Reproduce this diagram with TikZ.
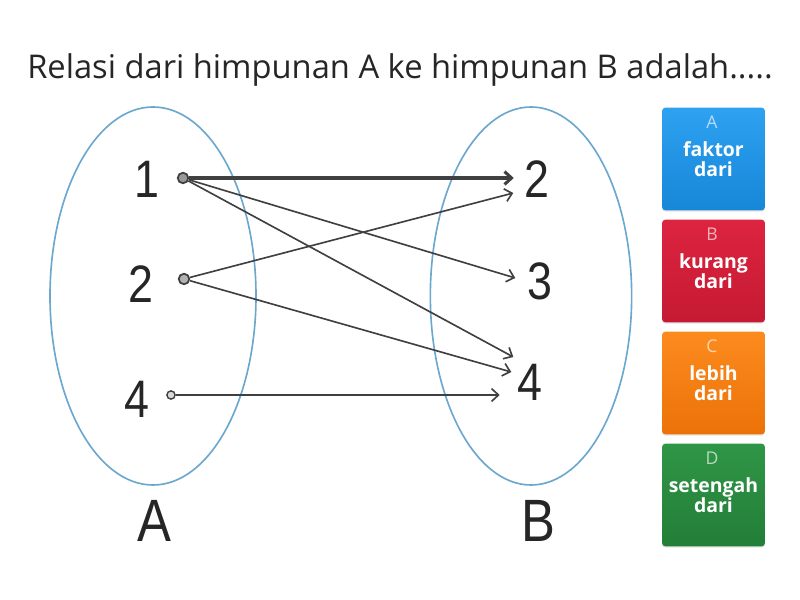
\documentclass[tikz,border=0pt]{standalone}
\usepackage{fontspec}
\usepackage{graphicx}
\setmainfont{Open Sans}
\newfontfamily\numfont{Liberation Sans}
\usetikzlibrary{arrows.meta,shadows}
\definecolor{setblue}{HTML}{6CA7CE}
\definecolor{mapgray}{HTML}{404040}
\definecolor{optAtop}{HTML}{2EA1F1}
\definecolor{optAbot}{HTML}{1787D8}
\definecolor{optBtop}{HTML}{DD2440}
\definecolor{optBbot}{HTML}{C51A32}
\definecolor{optCtop}{HTML}{FC8B1E}
\definecolor{optCbot}{HTML}{EC7208}
\definecolor{optDtop}{HTML}{2F9646}
\definecolor{optDbot}{HTML}{237E38}
\newcommand{\narrow}[1]{\scalebox{0.85}[1]{#1}}
\tikzset{
  >={Straight Barb[length=6pt,width=11pt]},
  elem/.style={circle,draw=mapgray,fill=gray!60,line width=1.5pt,inner sep=0pt,minimum size=9pt},
  num/.style={font=\numfont\fontsize{45}{45}\selectfont,text=black!85,inner sep=0pt},
  setname/.style={font=\numfont\fontsize{51}{51}\selectfont,text=black!85,inner sep=0pt},
  map/.style={->,draw=mapgray,line width=1.4pt},
  optbox/.style={rounded corners=2.5pt,minimum width=87.6pt,minimum height=87.5pt,
    drop shadow={opacity=0.2,shadow xshift=0pt,shadow yshift=-1.2pt}},
  optletter/.style={text=white,text opacity=0.65,font=\fontsize{15}{15}\selectfont,inner sep=0pt},
  optlabel/.style={text=white,font=\bfseries\fontsize{16.6}{17.5}\selectfont,align=center,inner sep=0pt}
}
\begin{document}
\begin{tikzpicture}[x=0.03cm,y=-0.03cm]
\useasboundingbox (0,0) rectangle (800,600);
\node[font=\fontsize{27.9}{32}\selectfont,text=black!85] (title) at (400,70) {Relasi dari himpunan A ke himpunan B adalah.....};

\draw[setblue,line width=1.4pt] (153,296) ellipse [x radius=3.09cm,y radius=5.67cm];
\draw[setblue,line width=1.4pt] (531,296) ellipse [x radius=3.02cm,y radius=5.67cm];
\node[setname] (A) at (154,521) {\narrow{A}};
\node[setname] (B) at (538,521) {\narrow{B}};

\node[num] (a1) at (147,179) {\narrow{1}};
\node[num] (a2) at (141,284) {\narrow{2}};
\node[num] (a4) at (137,399) {\narrow{4}};
\node[elem,fill=gray!80] (d1) at (183,178) {};
\node[elem] (d2) at (184,279) {};
\node[elem,fill=gray!30,minimum size=7pt,line width=1.2pt] (d4) at (171,395) {};

\node[num] (b2) at (537,179) {\narrow{2}};
\node[num] (b3) at (540,281) {\narrow{3}};
\node[num] (b4) at (530,382) {\narrow{4}};

\draw[map,line width=2.6pt,shorten >=9pt] (d1) -- (d1 -| b2.west);
\draw[map] (d2) -- ([shift={(-11,14)}]b2.west);
\draw[map] (d1) -- ([shift={(-12,-3)}]b3.west);
\draw[map] (d1) -- ([shift={(-4,-25)}]b4.west);
\draw[map] (d2) -- ([shift={(-6,-10)}]b4.west);
\draw[map,shorten >=15pt] (d4) -- (d4 -| b4.west);

\node[optbox,top color=optAtop,bottom color=optAbot] (optA) at (713.5,159) {};
\node[optletter] (letA) at (712,122) {A};
\node[optlabel] (txtA) at (713.5,159) {faktor\\dari};

\node[optbox,top color=optBtop,bottom color=optBbot] (optB) at (713.5,271) {};
\node[optletter] (letB) at (712,234) {B};
\node[optlabel] (txtB) at (713.5,271) {kurang\\dari};

\node[optbox,top color=optCtop,bottom color=optCbot] (optC) at (713.5,383) {};
\node[optletter] (letC) at (712,346) {C};
\node[optlabel] (txtC) at (713.5,383) {lebih\\dari};

\node[optbox,top color=optDtop,bottom color=optDbot] (optD) at (713.5,495) {};
\node[optletter] (letD) at (712,458) {D};
\node[optlabel] (txtD) at (713.5,495) {setengah\\dari};
\end{tikzpicture}
\end{document}
